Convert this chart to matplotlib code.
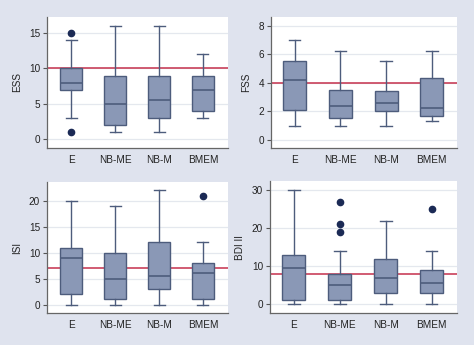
import matplotlib
matplotlib.use("Agg")
from matplotlib import pyplot as plt

GROUPS = ["E", "NB-ME", "NB-M", "BMEM"]

# ESS: whisker low, q1, median, q3, whisker high
ESS_LOW = [3, 1, 1, 3]
ESS_Q1 = [7, 2, 3, 4]
ESS_MED = [8, 5, 5.5, 7]
ESS_Q3 = [10, 9, 9, 9]
ESS_HIGH = [14, 16, 16, 12]
ESS_OUT = [[15, 1], [], [], []]
ESS_REF = 10

FSS_LOW = [1, 1, 1, 1.35]
FSS_Q1 = [2.1, 1.55, 2.0, 1.7]
FSS_MED = [4.2, 2.4, 2.6, 2.25]
FSS_Q3 = [5.5, 3.5, 3.4, 4.3]
FSS_HIGH = [7, 6.2, 5.55, 6.2]
FSS_OUT = [[], [], [], []]
FSS_REF = 4

ISI_LOW = [0, 0, 0, 0]
ISI_Q1 = [2, 1, 3, 1]
ISI_MED = [9, 5, 5.5, 6]
ISI_Q3 = [11, 10, 12, 8]
ISI_HIGH = [20, 19, 22, 12]
ISI_OUT = [[], [], [], [21]]
ISI_REF = 7

BDI_LOW = [0, 0, 0, 0]
BDI_Q1 = [1, 1, 3, 3]
BDI_MED = [9.5, 5, 7, 5.5]
BDI_Q3 = [13, 8, 12, 9]
BDI_HIGH = [30, 14, 22, 14]
BDI_OUT = [[], [19, 21, 27], [], [25]]
BDI_REF = 8

BG = "#dfe3ee"
BOX_FILL = "#8a98b6"
BOX_EDGE = "#4d5c7c"
DOT = "#1b2a55"
REF_COLOR = "#c9405a"
FS = 7.2


def make_stats(low, q1, med, q3, high, out):
    stats = []
    for i in range(len(low)):
        stats.append({"whislo": low[i], "q1": q1[i], "med": med[i],
                      "q3": q3[i], "whishi": high[i], "fliers": out[i]})
    return stats


def draw_panel(ax, stats, ref, label, ylim, yticks, xlim):
    ax.set_facecolor("white")
    for y in yticks:
        ax.axhline(y, color="#e4e8ee", lw=0.9, zorder=0)
    ax.axhline(ref, color=REF_COLOR, lw=1.2, zorder=1)
    ax.bxp(stats, positions=range(1, len(stats) + 1), widths=0.5, capwidths=0.25,
           patch_artist=True, showfliers=True,
           boxprops=dict(facecolor=BOX_FILL, edgecolor=BOX_EDGE, lw=1.0),
           medianprops=dict(color=BOX_EDGE, lw=1.2),
           whiskerprops=dict(color=BOX_EDGE, lw=1.0),
           capprops=dict(color=BOX_EDGE, lw=1.0),
           flierprops=dict(marker="o", markerfacecolor=DOT, markeredgecolor=DOT,
                           markersize=4.5))
    ax.set_xticks(range(1, len(GROUPS) + 1))
    ax.set_xticklabels(GROUPS)
    ax.tick_params(axis="x", length=0, pad=5, labelsize=FS, colors="#222222")
    ax.tick_params(axis="y", length=3, width=0.8, color="#555555", pad=2,
                   labelsize=FS, labelcolor="#222222")
    ax.set_yticks(yticks)
    ax.set_ylim(ylim)
    ax.set_xlim(xlim)
    ax.set_ylabel(label, fontsize=FS, color="#222222", labelpad=5)
    for side in ["top", "right"]:
        ax.spines[side].set_visible(False)
    for side in ["left", "bottom"]:
        ax.spines[side].set_color("#666666")
        ax.spines[side].set_linewidth(0.9)


def main():
    plt.rcParams["font.family"] = ["Liberation Sans", "DejaVu Sans"]
    W, H = 474, 345
    fig = plt.figure(figsize=(W / 100, H / 100), dpi=100, facecolor=BG)

    def box(l, r, t, b):
        return [l / W, 1 - b / H, (r - l) / W, (b - t) / H]

    ax1 = fig.add_axes(box(47, 228, 17, 148))
    ax2 = fig.add_axes(box(271, 457, 17, 148))
    ax3 = fig.add_axes(box(47, 228, 182, 313))
    ax4 = fig.add_axes(box(270, 457, 181, 313))

    draw_panel(ax1, make_stats(ESS_LOW, ESS_Q1, ESS_MED, ESS_Q3, ESS_HIGH, ESS_OUT),
               ESS_REF, "ESS", (-1.2, 17.25), [0, 5, 10, 15], (0.45, 4.57))
    draw_panel(ax2, make_stats(FSS_LOW, FSS_Q1, FSS_MED, FSS_Q3, FSS_HIGH, FSS_OUT),
               FSS_REF, "FSS", (-0.56, 8.6), [0, 2, 4, 6, 8], (0.48, 4.55))
    draw_panel(ax3, make_stats(ISI_LOW, ISI_Q1, ISI_MED, ISI_Q3, ISI_HIGH, ISI_OUT),
               ISI_REF, "ISI", (-1.6, 23.6), [0, 5, 10, 15, 20], (0.45, 4.57))
    draw_panel(ax4, make_stats(BDI_LOW, BDI_Q1, BDI_MED, BDI_Q3, BDI_HIGH, BDI_OUT),
               BDI_REF, "BDI II", (-2.3, 32.4), [0, 10, 20, 30], (0.48, 4.55))

    fig.savefig("out.png", dpi=100, facecolor=BG)


if __name__ == "__main__":
    main()
